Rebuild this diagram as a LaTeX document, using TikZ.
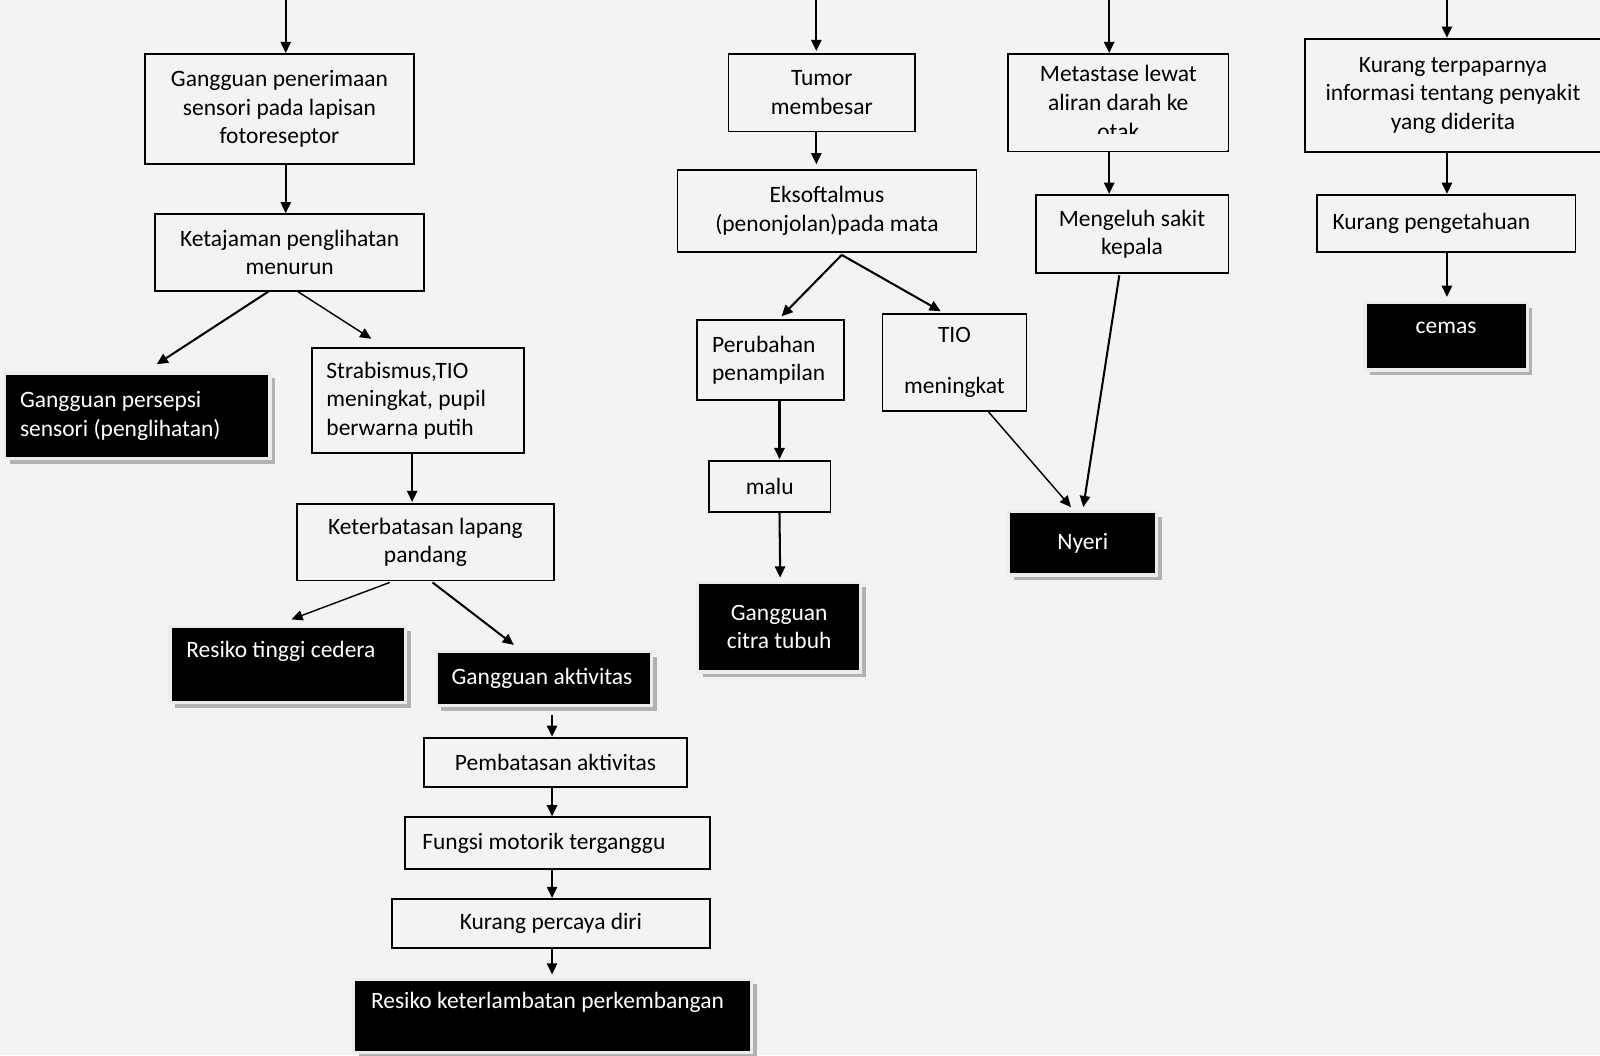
\documentclass[tikz,border=0pt]{standalone}
\usepackage{fontspec}
\setmainfont{Carlito}
\usetikzlibrary{arrows.meta, positioning, calc, shadows}
\definecolor{bgcol}{HTML}{F3F3F3}

\begin{document}
\begin{tikzpicture}[x=0.5pt, y=-0.5pt,
  font=\fontsize{11.5}{14}\selectfont,
  box/.style={draw, line width=0.9pt, anchor=north west, inner sep=0pt, align=center},
  darkbox/.style={draw=gray!15, line width=1.6pt, fill=black, text=white, anchor=north west,
    inner sep=0pt, align=flush left, drop shadow={shadow xshift=2.5pt, shadow yshift=-2.5pt, fill=gray!60, opacity=1}},
  arr/.style={-{Triangle[length=5.5pt, width=5pt]}, line width=1pt},
  thinarr/.style={arr, line width=0.7pt}]
\fill[bgcol] (0,0) rectangle (1568,1034);
\useasboundingbox (0,0) rectangle (1568,1034);

% left column
\node[box, minimum width=132pt, minimum height=54pt] (recv) at (141,52) {Gangguan penerimaan\\sensori pada lapisan\\fotoreseptor};
\node[box, minimum width=132pt, minimum height=37.5pt] (sharp) at (151,209) {Ketajaman penglihatan\\menurun};
\node[darkbox, text width=115pt, inner xsep=7.5pt, minimum height=42pt] (persepsi) at (3,364) {Gangguan persepsi\\sensori (penglihatan)};
\node[box, align=flush left, text width=90pt, inner xsep=7pt, minimum height=51.5pt] (strab) at (305,340) {Strabismus,TIO\\meningkat, pupil\\berwarna putih};
\node[box, minimum width=126pt, minimum height=37.5pt] (lapang) at (290,493) {Keterbatasan lapang\\pandang};
\node[darkbox, text width=99.5pt, inner xsep=8pt, inner ysep=3pt, text height=12.5pt, text depth=19pt] (cedera) at (165,612) {Resiko tinggi cedera};
\node[darkbox, text width=90.5pt, inner xsep=7.5pt, minimum height=26.5pt] (aktiv) at (426,637) {Gangguan aktivitas};
\node[box, minimum width=128.5pt, minimum height=24pt] (batas) at (415,722) {Pembatasan aktivitas};
\node[box, align=flush left, text width=132.5pt, inner xsep=8.5pt, minimum height=25.5pt] (motor) at (396,800) {Fungsi motorik terganggu};
\node[box, minimum width=156pt, minimum height=24pt] (pede) at (383,880) {Kurang percaya diri};
\node[darkbox, text width=178pt, inner xsep=8.5pt, inner ysep=3pt, text height=11.5pt, text depth=18.5pt] (kembang) at (345,958) {Resiko keterlambatan perkembangan};

\coordinate (in1) at (280,0);
\coordinate (spine) at (541,700);
\draw[arr] (in1) -- (in1 |- recv.north);
\draw[arr] (recv.south -| in1) -- (sharp.north -| in1);
\draw[arr] ($(sharp.south)+(-21,0)$) -- ($(persepsi.north)+(19,-7)$);
\draw[thinarr] ($(sharp.south)+(8,0)$) -- ($(strab.north)+(-46,-8)$);
\draw[arr] ($(strab.south)+(-6,0)$) -- ($(lapang.north)+(-13,-1)$);
\draw[thinarr] ($(lapang.south)+(-35,1)$) -- ($(cedera.north)+(3.5,-5)$);
\draw[arr] ($(lapang.south)+(7,1)$) -- ($(aktiv.north)+(-29.5,-5)$);
\draw[arr] ($(aktiv.south -| spine)+(0,7)$) -- (batas.north -| spine);
\draw[arr] (batas.south -| spine) -- (motor.north -| spine);
\draw[arr] (motor.south -| spine) -- (pede.north -| spine);
\draw[arr] (pede.south -| spine) -- ($(kembang.north -| spine)+(0,-3)$);

% middle column
\node[box, minimum width=91.5pt, minimum height=38pt] (tumor) at (713,52) {Tumor\\membesar};
\node[box, minimum width=146.5pt, minimum height=40pt] (eksof) at (663,166) {Eksoftalmus\\(penonjolan)pada mata};
\node[box, align=flush left, text width=57pt, inner xsep=7.5pt, minimum height=39pt] (tampil) at (682,313) {Perubahan\\penampilan};
\node[box, minimum width=70.5pt, minimum height=47.5pt] (tio) at (864,307) {TIO\\[11pt]meningkat};
\node[box, minimum width=59.5pt, minimum height=25pt] (malu) at (694,451) {malu};
\node[darkbox, align=center, minimum width=80pt, minimum height=44pt] (citra) at (682,569) {Gangguan\\citra tubuh};
\node[darkbox, align=center, minimum width=72.5pt, minimum height=31pt] (nyeri) at (987,500) {Nyeri};

\coordinate (in2) at (800,0);
\draw[arr] (in2) -- ($(in2 |- tumor.north)+(0,-2)$);
\draw[arr] (tumor.south -| in2) -- ($(eksof.north -| in2)+(0,-5)$);
\draw[arr] ($(eksof.south)+(14.5,2)$) -- ($(tampil.north)+(11,-3)$);
\draw[arr] ($(eksof.south)+(14.5,2)$) -- ($(tio.north)+(-13.5,-2)$);
\draw[arr] ($(tampil.south)+(9,0)$) -- ($(malu.north)+(9.5,-1)$);
\draw[arr] ($(malu.south)+(9.5,0)$) -- ($(citra.north)+(1,-3)$);
\draw[thinarr] ($(tio.south)+(33.5,0)$) -- ($(nyeri.north)+(-11.5,-3)$);

% metastase
\node[box, minimum width=108pt, minimum height=47.5pt] (meta) at (987,52) {Metastase lewat\\aliran darah ke\\otak};
\fill[bgcol] ($(meta.south west)+(2,-17)$) rectangle ($(meta.south east)+(-2,-1)$);
\node[box, minimum width=94.5pt, minimum height=38.5pt] (pusing) at (1014,190) {Mengeluh sakit\\kepala};

\coordinate (in3) at (1087,0);
\draw[arr] (in3) -- (in3 |- meta.north);
\draw[arr] (meta.south -| in3) -- (pusing.north -| in3);
\draw[arr] ($(pusing.south)+(-12.5,1)$) -- ($(nyeri.north)+(0.5,-3)$);

% right column
\node[box, minimum width=145pt, minimum height=55.5pt] (info) at (1278,37) {Kurang terpaparnya\\informasi tentang penyakit\\yang diderita};
\node[box, align=flush left, text width=111.5pt, inner xsep=7.5pt, minimum height=28pt] (tahu) at (1290,190) {Kurang pengetahuan};
\node[darkbox, align=center, minimum width=79.5pt, inner ysep=3pt, text height=12pt, text depth=15pt] (cemas) at (1336,295) {cemas};

\coordinate (in4) at (1418,0);
\draw[arr] (in4) -- (in4 |- info.north);
\draw[arr] (info.south -| in4) -- (tahu.north -| in4);
\draw[arr] (tahu.south -| in4) -- ($(cemas.north -| in4)+(0,-4)$);
\end{tikzpicture}
\end{document}
